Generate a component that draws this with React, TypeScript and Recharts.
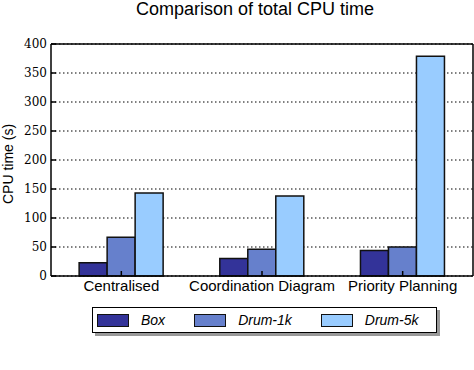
import { BarChart, Bar, XAxis, YAxis, CartesianGrid } from 'recharts';

const categories = ['Centralised', 'Coordination Diagram', 'Priority Planning'];
const boxTimes = [23, 30, 44];
const drum1kTimes = [67, 46, 50];
const drum5kTimes = [143, 138, 379];
const yTicks = [0, 50, 100, 150, 200, 250, 300, 350, 400];

const series = [
  { key: 'box', name: 'Box', color: '#333399' },
  { key: 'drum1k', name: 'Drum-1k', color: '#6680cc' },
  { key: 'drum5k', name: 'Drum-5k', color: '#99ccff' },
];

const data = categories.map((name, i) => ({
  name,
  box: boxTimes[i],
  drum1k: drum1kTimes[i],
  drum5k: drum5kTimes[i],
}));

const sans = '"Liberation Sans", Arial, sans-serif';
const serif = '"DejaVu Serif", serif';

export default function App() {
  return (
    <div style={{ position: 'relative', width: 474, height: 370, background: '#fff' }}>
      <style>{'body { margin: 0; }'}</style>
      <div
        style={{
          position: 'absolute',
          left: 0,
          top: -1,
          width: 510,
          textAlign: 'center',
          fontFamily: sans,
          fontSize: 18,
          color: '#000',
        }}
      >
        Comparison of total CPU time
      </div>
      <div
        style={{
          position: 'absolute',
          left: 8,
          top: 164,
          transform: 'translate(-50%, -50%) rotate(-90deg)',
          fontFamily: sans,
          fontSize: 14,
          lineHeight: '14px',
          whiteSpace: 'nowrap',
          color: '#000',
        }}
      >
        CPU time (s)
      </div>
      <BarChart
        width={474}
        height={370}
        data={data}
        margin={{ top: 43, right: 0, bottom: 64, left: 0 }}
        barCategoryGap="20%"
        barGap={0}
      >
        <CartesianGrid vertical={false} stroke="#000" strokeDasharray="1.5 2.5" />
        <XAxis
          dataKey="name"
          height={30}
          interval={0}
          stroke="#000"
          strokeWidth={1.5}
          tickSize={-5}
          tickMargin={9}
          tick={{ fill: '#000', fontFamily: sans, fontSize: 15 }}
        />
        <XAxis
          xAxisId="top"
          dataKey="name"
          orientation="top"
          height={1}
          interval={0}
          stroke="#000"
          strokeWidth={1.5}
          tickSize={-5}
          tick={false}
        />
        <YAxis
          width={51}
          domain={[0, 400]}
          ticks={yTicks}
          interval={0}
          stroke="#000"
          strokeWidth={1.5}
          tickSize={-5}
          tickMargin={9}
          tick={{ fill: '#000', fontFamily: serif, fontSize: 12 }}
        />
        <YAxis
          yAxisId="right"
          orientation="right"
          width={1}
          domain={[0, 400]}
          ticks={yTicks}
          interval={0}
          stroke="#000"
          strokeWidth={1.5}
          tickSize={-5}
          tick={false}
        />
        {series.map((s) => (
          <Bar
            key={s.key}
            dataKey={s.key}
            name={s.name}
            fill={s.color}
            stroke="#111"
            strokeWidth={1.5}
            isAnimationActive={false}
          />
        ))}
      </BarChart>
      <div
        style={{
          position: 'absolute',
          left: 92,
          top: 307,
          width: 339,
          height: 24,
          border: '1.5px solid #000',
          boxShadow: '3px 3px 0 #999',
          background: '#fff',
          display: 'flex',
          alignItems: 'center',
          paddingLeft: 4,
          boxSizing: 'content-box',
        }}
      >
        {series.map((s, i) => (
          <div
            key={s.key}
            style={{ display: 'flex', alignItems: 'center', marginLeft: i === 0 ? 0 : 29 }}
          >
            <div
              style={{
                width: 30,
                height: 11,
                background: s.color,
                border: '1px solid #111',
                marginRight: 12,
              }}
            />
            <span style={{ fontFamily: sans, fontSize: 14, fontStyle: 'italic', color: '#000' }}>
              {s.name}
            </span>
          </div>
        ))}
      </div>
    </div>
  );
}
